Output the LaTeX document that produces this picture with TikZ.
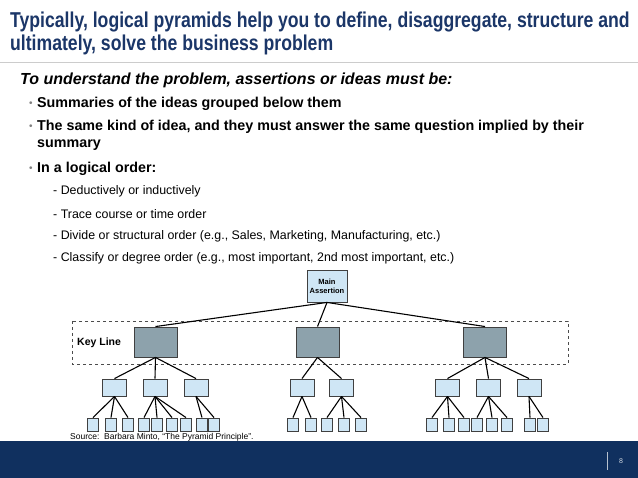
\documentclass[tikz,border=0pt]{standalone}
\usepackage{fontspec}
\setmainfont{Liberation Sans}
\newfontfamily\titlefont[FakeStretch=0.82]{Liberation Sans}
\definecolor{navy}{HTML}{1B3668}
\definecolor{barblue}{HTML}{10305F}
\definecolor{lightbox}{HTML}{CFE6F5}
\definecolor{keybox}{HTML}{8DA2AC}
\begin{document}
\begin{tikzpicture}[x=1pt,y=-1pt,
  box/.style={draw=black!75,line width=0.9pt,fill=lightbox,inner sep=0pt},
  kbox/.style={draw=black!75,line width=0.9pt,fill=keybox,inner sep=0pt,minimum width=43pt,minimum height=30pt},
  mbox/.style={box,minimum width=24pt,minimum height=17pt},
  leaf/.style={box,minimum width=11pt,minimum height=13pt},
  edge/.style={line width=1.1pt,black},
  txt/.style={anchor=west,inner sep=0pt}]
\useasboundingbox (0,0) rectangle (638,478);
\fill[white] (0,0) rectangle (638,478);
% title
\node[txt,text=navy,font=\titlefont\bfseries\fontsize{21.5}{24}\selectfont] (t1) at (10,22) {Typically, logical pyramids help you to define, disaggregate, structure and};
\node[txt,text=navy,font=\titlefont\bfseries\fontsize{21.5}{24}\selectfont] (t2) at (10,45) {ultimately, solve the business problem};
\draw[black!20,line width=1pt] (0,63) -- (638,63);
% body
\node[txt,font=\bfseries\itshape\fontsize{16}{19}\selectfont] (h) at (20,80) {To understand the problem, assertions or ideas must be:};
\tikzset{bul/.style={txt,font=\bfseries\fontsize{14.3}{17}\selectfont},
  dot/.style={txt,text=black!50,font=\fontsize{10}{12}\selectfont},
  sub/.style={txt,font=\fontsize{12.4}{15}\selectfont}}
\node[dot] (d1) at (29,104) {•};
\node[bul] (b1) at (37,104) {Summaries of the ideas grouped below them};
\node[dot] (d2) at (29,127) {•};
\node[bul] (b2) at (37,127) {The same kind of idea, and they must answer the same question implied by their};
\node[bul] (b2b) at (37,145) {summary};
\node[dot] (d3) at (29,169) {•};
\node[bul] (b3) at (37,169) {In a logical order:};
\node[sub] (s1) at (53,191) {- Deductively or inductively};
\node[sub] (s2) at (53,214) {- Trace course or time order};
\node[sub] (s3) at (53,236) {- Divide or structural order (e.g., Sales, Marketing, Manufacturing, etc.)};
\node[sub] (s4) at (53,258) {- Classify or degree order (e.g., most important, 2nd most important, etc.)};
% pyramid
\draw[dashed,line width=0.6pt,black!70] (72,321) rectangle (568,364);
\node[txt,font=\bfseries\fontsize{10.5}{12}\selectfont] (kl) at (77,343) {Key Line};
\node[box,minimum width=40pt,minimum height=32pt,align=center,font=\bfseries\fontsize{7.5}{9}\selectfont] (m) at (327,286) {Main\\Assertion};
\node[kbox] (k1) at (155.5,342) {};
\node[kbox] (k2) at (317.5,342) {};
\node[kbox] (k3) at (485,342) {};
\foreach \k in {k1,k2,k3} \draw[edge] (m.south) -- (\k.north);
% level 3
\foreach \n/\x/\p in {a/114.5/k1,b/155/k1,c/196/k1,d/302/k2,e/341.5/k2,f/447.5/k3,g/488.5/k3,h/529/k3}{
  \node[mbox] (\n) at (\x,387.5) {};
  \draw[edge] (\p.south) -- (\n.north);
}
% leaves
\foreach \i/\x/\p in {1/93/a,2/111/a,3/128/a,4/144/b,5/157/b,6/172/b,7/186/b,8/202/c,9/214/c,
  10/293/d,11/311/d,12/327/e,13/344/e,14/361/e,
  15/432/f,16/449/f,17/464/f,18/477/g,19/492/g,20/507/g,21/530/h,22/543/h}{
  \node[leaf] (l\i) at (\x,424.5) {};
  \draw[edge] (\p.south) -- (l\i.north);
}
\node[txt,font=\fontsize{8.5}{10}\selectfont] (src) at (70,437) {Source:\ \ Barbara Minto, “The Pyramid Principle”.};
% footer
\fill[barblue] (0,441) rectangle (638,478);
\draw[white!70!barblue,line width=0.6pt] (607,452) -- (607,470);
\node[txt,text=white!80!barblue,font=\fontsize{7}{8}\selectfont] (pg) at (619,461) {8};
\end{tikzpicture}
\end{document}
